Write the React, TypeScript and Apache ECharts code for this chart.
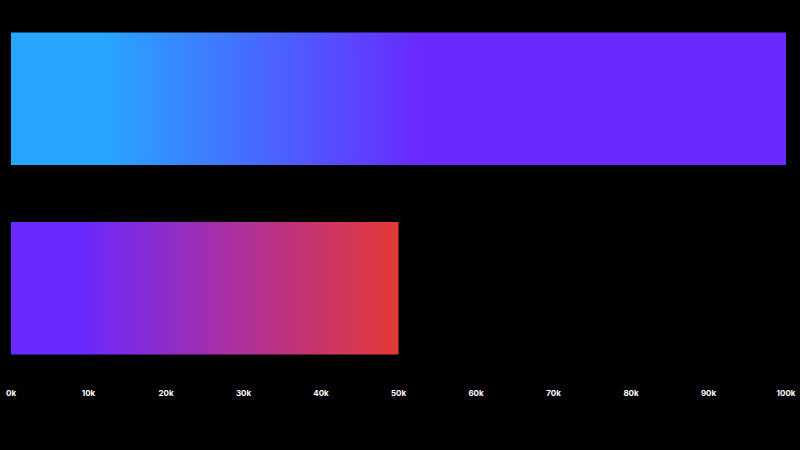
import React, { useEffect, useRef } from "react";
import * as echarts from "echarts";

const categories = ["B", "A"];
const values = [50000, 100000];
const tickMax = 100000;
const tickInterval = 10000;

export default function App() {
  const ref = useRef<HTMLDivElement>(null);
  useEffect(() => {
    document.body.style.margin = "0";
    document.body.style.background = "#000";
    const chart = echarts.init(ref.current!, null, { renderer: "svg" });
    const gradients = [
      new echarts.graphic.LinearGradient(0, 0, 1, 0, [
        { offset: 0, color: "#6a29ff" },
        { offset: 0.18, color: "#6a29ff" },
        { offset: 0.6, color: "#b0309a" },
        { offset: 1, color: "#e33a35" },
      ]),
      new echarts.graphic.LinearGradient(0, 0, 1, 0, [
        { offset: 0, color: "#27a6ff" },
        { offset: 0.12, color: "#27a6ff" },
        { offset: 0.53, color: "#6a29ff" },
        { offset: 1, color: "#6a29ff" },
      ]),
    ];
    chart.setOption({
      animation: false,
      backgroundColor: "#000",
      grid: { left: 11, right: 14, top: 4, bottom: 67, containLabel: false },
      xAxis: {
        type: "value",
        min: 0,
        max: tickMax,
        interval: tickInterval,
        axisLine: { show: false },
        axisTick: { show: false },
        splitLine: { show: false },
        axisLabel: {
          color: "#fff",
          fontWeight: "bold",
          fontSize: 8,
          fontFamily: "Inter, sans-serif",
          margin: 6,
          formatter: (v: number) => `${v / 1000}k`,
        },
      },
      yAxis: {
        type: "category",
        data: categories,
        show: false,
      },
      series: [
        {
          type: "bar",
          barCategoryGap: "30%",
          data: values.map((v, i) => ({ value: v, itemStyle: { color: gradients[i] } })),
        },
      ],
    });
    return () => chart.dispose();
  }, []);
  return (
    <div
      ref={ref}
      style={{ position: "absolute", left: 0, top: 0, width: 800, height: 450, background: "#000" }}
    />
  );
}
